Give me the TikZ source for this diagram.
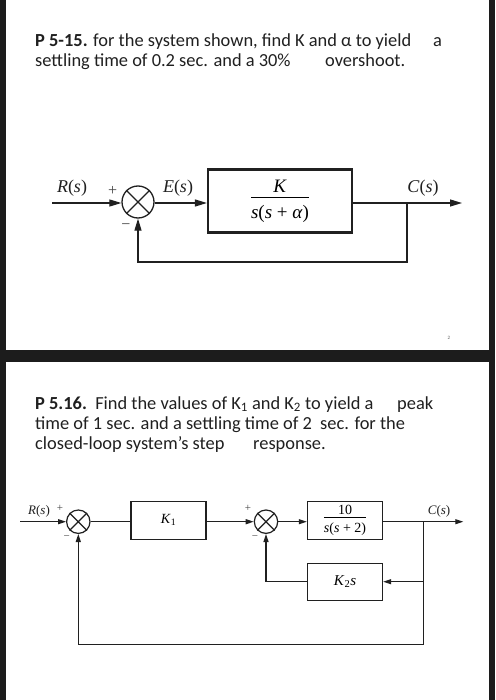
\documentclass[tikz,border=0pt]{standalone}
\usepackage{fontspec}
\setmainfont{Carlito}
\newfontfamily\tms{Liberation Serif}
\usetikzlibrary{arrows.meta,positioning}
\definecolor{sheetedge}{HTML}{1C1C1C}
\definecolor{ink}{HTML}{202020}
\newcommand{\blockfrac}[2]{\begin{tabular}{@{}c@{}}#1\\[-2pt]\hline\rule{0pt}{2.4ex}#2\end{tabular}}

\begin{document}
\begin{tikzpicture}[x=1pt, y=-1pt, >=Triangle]
  \tikzset{
    q/.style={font=\fontsize{18.4}{22}\selectfont, text=ink, anchor=base west, inner sep=0pt},
    sumjn/.style={draw=ink, circle, inner sep=0pt, line width=1.3pt},
    block/.style={draw=ink, rectangle, inner sep=0pt},
    sig/.style={draw=ink, line width=1.2pt},
    lblA/.style={font=\tms\fontsize{18}{20}\selectfont, text=ink, inner sep=0pt},
    lblB/.style={font=\tms\fontsize{13}{15}\selectfont, text=ink, inner sep=0pt},
    sgn/.style={font=\tms\fontsize{16}{16}\selectfont, text=ink!85, inner sep=0pt}
  }
  \useasboundingbox (0,0) rectangle (495,700);
  %% Dark frame with two white sheets
  \fill[sheetedge] (0,0) rectangle (495,700);
  \fill[white] (6,0) rectangle (489,350);
  \fill[white] (6,362) rectangle (489,700);

  %% Problem 5-15 text
  \node[q] (qa1) at (35,46.7) {\textbf{P 5-15.} for the system shown, find K and α to yield};
  \node[q] (qa2) at (433,46.7) {a};
  \node[q] (qa3) at (35,66.7) {settling time of 0.2 sec. and a 30\%};
  \node[q] (qa4) at (325,66.7) {overshoot.};

  %% Diagram 1
  \coordinate (inA) at (52,203);
  \node[sumjn, minimum size=32pt] (sumA) at (138,202) {};
  \draw[ink, line width=1.3pt] (sumA.north west) -- (sumA.south east)
    (sumA.north east) -- (sumA.south west);
  \node[block, line width=2.2pt, minimum width=144pt, minimum height=63pt] (plantA) at (280,201)
    {\tms\fontsize{19}{21}\selectfont\blockfrac{\textit{K}}{\textit{s}(\textit{s} + \textit{α})}};
  \coordinate (takeA) at (407,203);
  \coordinate (outA) at (462,203);
  \coordinate (backA) at (407,262);

  \draw[sig, -{Triangle[length=12pt,width=7pt]}] (inA) -- (inA -| sumA.west);
  \draw[sig, -{Triangle[length=12pt,width=7pt]}] (inA -| sumA.east) -- (inA -| plantA.west);
  \draw[sig, -{Triangle[length=12pt,width=7pt]}] (plantA.east |- inA) -- (outA);
  \draw[sig, -{Triangle[length=12pt,width=7pt]}] (takeA) -- (backA) -| (sumA.south);

  \node[lblA] (rA) at (72,188) {\textit{R}(\textit{s})};
  \node[lblA] (eA) at (178,188) {\textit{E}(\textit{s})};
  \node[lblA] (cA) at (423,188) {\textit{C}(\textit{s})};
  \node[sgn] (plusA) at (112.7,190.7) {+};
  \node[sgn] (minusA) at (126,227) {−};

  %% page number
  \node[font=\fontsize{5}{5}\selectfont, text=ink!70, inner sep=0pt] (pg) at (449,338) {2};

  %% Problem 5.16 text
  \node[q] (qb1) at (35,409) {\textbf{P 5.16.}\ \ Find the values of K\textsubscript{1} and K\textsubscript{2} to yield a};
  \node[q] (qb2) at (397,409) {peak};
  \node[q] (qb3) at (35,429) {time of 1 sec. and a settling time of 2};
  \node[q] (qb4) at (320,429) {sec. for the};
  \node[q] (qb5) at (35,449) {closed-loop system’s step};
  \node[q] (qb6) at (253,449) {response.};

  %% Diagram 2
  \coordinate (inB) at (20,521.7);
  \node[sumjn, line width=1.2pt, minimum size=23.4pt] (sumB) at (78.3,521.7) {};
  \node[sumjn, line width=1.2pt, minimum size=23.4pt] (sumC) at (266,521.7) {};
  \foreach \s in {sumB,sumC}
    \draw[ink, line width=1.2pt] (\s.north west) -- (\s.south east)
      (\s.north east) -- (\s.south west);
  \node[block, line width=1.4pt, minimum width=75pt, minimum height=38pt] (gainB) at (168.5,520.2)
    {\tms\fontsize{14}{16}\selectfont\textit{K}\textsubscript{1}};
  \node[block, line width=1.4pt, minimum width=75pt, minimum height=38pt] (plantB) at (345,520.2)
    {\tms\fontsize{14}{15}\selectfont\blockfrac{10}{\textit{s}(\textit{s} + 2)}};
  \node[block, line width=1.4pt, minimum width=75pt, minimum height=37pt] (rateB) at (345,582)
    {\tms\fontsize{15}{17}\selectfont\textit{K}\textsubscript{2}\textit{s}};
  \coordinate (takeB) at (423.3,521.7);
  \coordinate (outB) at (463.3,521.7);
  \coordinate (midB) at (423.3,581.7);
  \coordinate (backB) at (423.3,644.3);

  \draw[sig, -{Triangle[length=8pt,width=5pt]}] (inB) -- (sumB.west);
  \draw[sig] (sumB.east) -- (sumB.east -| gainB.west);
  \draw[sig, -{Triangle[length=8pt,width=5pt]}] (gainB.east |- sumC) -- (sumC.west);
  \draw[sig, -{Triangle[length=8pt,width=5pt]}] (sumC.east) -- (sumC.east -| plantB.west);
  \draw[sig, -{Triangle[length=8pt,width=5pt]}] (plantB.east |- sumC) -- (outB);
  \draw[sig, -{Triangle[length=8pt,width=5pt]}] (takeB) -- (midB) -- (midB -| rateB.east);
  \draw[sig, -{Triangle[length=8pt,width=5pt]}] (rateB.west |- midB) -| (sumC.south);
  \draw[sig, -{Triangle[length=8pt,width=5pt]}] (midB) -- (backB) -| (sumB.south);

  \node[lblB] (rB) at (39,511) {\textit{R}(\textit{s})};
  \node[lblB] (cB) at (439,511) {\textit{C}(\textit{s})};
  \node[sgn, font=\tms\fontsize{11}{11}\selectfont] (plusB) at (60,508.3) {+};
  \node[sgn, font=\tms\fontsize{11}{11}\selectfont] (minusB) at (66.7,537.3) {−};
  \node[sgn, font=\tms\fontsize{11}{11}\selectfont] (plusC) at (248,508.3) {+};
  \node[sgn, font=\tms\fontsize{11}{11}\selectfont] (minusC) at (255,537.3) {−};
\end{tikzpicture}
\end{document}
